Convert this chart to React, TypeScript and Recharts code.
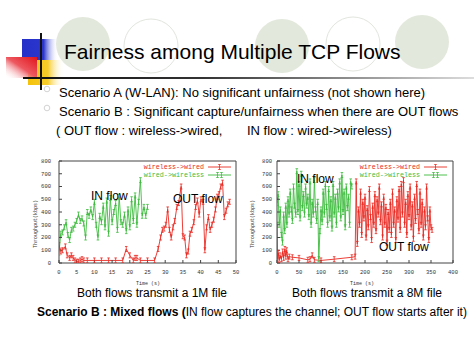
import React from 'react';
import { LineChart, Line, XAxis, YAxis, Legend } from 'recharts';

// 1M file: IN flow (wired->wireless) and OUT flow (wireless->wired)
const oneMInTime = [0, 0.5, 1, 1.5, 2, 2.5, 3, 3.5, 4, 4.5, 5, 5.5, 6, 6.5, 7, 7.5, 8, 8.5, 9, 9.5, 10, 10.5, 11, 11.5, 12, 12.5, 13, 13.5, 14, 14.5, 15, 15.5, 16, 16.5, 17, 17.5, 18, 18.5, 19, 19.5, 20, 20.5, 21, 21.5, 22, 22.5, 23, 23.5, 24, 24.5, 25];
const oneMInKbps = [80, 230, 240, 280, 320, 220, 180, 260, 270, 300, 330, 380, 330, 350, 310, 200, 400, 370, 420, 360, 480, 300, 200, 370, 320, 450, 280, 490, 230, 510, 320, 400, 470, 260, 520, 320, 300, 380, 250, 420, 280, 500, 330, 530, 300, 480, 650, 370, 440, 370, 440];
const oneMOutTime = [0, 0.5, 1, 1.8, 2.3, 3, 3.5, 4, 4.5, 5, 5.5, 6, 6.5, 7, 8, 10, 12, 14, 16, 18, 19, 20, 21, 21.5, 22, 23, 25, 27, 28, 28.7, 29.2, 29.7, 30.2, 30.7, 31.2, 31.7, 32.2, 32.7, 33.3, 33.8, 34.5, 35, 35.5, 36, 36.5, 37, 37.5, 38.1, 38.6, 39.1, 39.6, 40.1, 40.7, 41.2, 41.7, 42.2, 42.7, 43.2, 43.7, 44.2, 44.7, 45.2, 45.7, 46.2, 46.7, 47.2, 47.7, 48.2];
const oneMOutKbps = [140, 90, 100, 130, 60, 40, 60, 40, 20, 10, 10, 20, 30, 20, 20, 20, 20, 20, 20, 20, 110, 60, 20, 40, 40, 20, 20, 20, 110, 200, 260, 270, 300, 420, 260, 200, 280, 330, 440, 470, 600, 210, 200, 60, 90, 230, 260, 320, 440, 490, 380, 500, 480, 100, 280, 360, 260, 300, 340, 420, 520, 540, 600, 630, 360, 410, 460, 480];

// 8M file
const eightMInTime = [0, 2.5, 5, 7.5, 10, 12.5, 15, 17.5, 20, 22.5, 25, 27.5, 30, 32.5, 35, 37.5, 40, 42.5, 45, 47.5, 50, 52.5, 55, 57.5, 60, 62.5, 65, 67.5, 70, 72.5, 75, 77.5, 80, 82.5, 85, 87.5, 90, 92.5, 95, 97.5, 100, 102.5, 105, 107.5, 110, 112.5, 115, 117.5, 120, 122.5, 125, 127.5, 130, 132.5, 135, 137.5, 140, 142.5, 145, 147.5, 150, 152.5, 155, 157.5, 160, 162.5, 165, 167.5, 170];
const eightMInKbps = [470, 540, 300, 420, 220, 160, 380, 250, 450, 300, 500, 380, 560, 420, 330, 600, 450, 380, 720, 400, 620, 350, 700, 430, 540, 380, 600, 450, 520, 360, 640, 300, 480, 380, 650, 420, 330, 480, 30, 250, 420, 320, 560, 380, 620, 440, 300, 580, 350, 500, 270, 620, 380, 520, 300, 560, 420, 640, 350, 690, 400, 560, 280, 600, 430, 520, 300, 640, 600];
const eightMOutTime = [0, 1, 3, 5, 7, 10, 13, 15, 18, 20, 22, 25, 28, 35, 50, 70, 75, 80, 85, 100, 130, 170, 177.5, 180, 182.5, 185, 187.5, 190, 192.5, 195, 197.5, 200, 202.5, 205, 207.5, 210, 212.5, 215, 217.5, 220, 222.5, 225, 227.5, 230, 232.5, 235, 237.5, 240, 242.5, 245, 247.5, 250, 252.5, 255, 257.5, 260, 262.5, 265, 267.5, 270, 272.5, 275, 277.5, 280, 282.5, 285, 287.5, 290, 292.5, 295, 297.5, 300, 302.5, 305, 307.5, 310, 312.5, 315, 317.5, 320, 322.5, 325, 327.5, 330, 332.5, 335, 337.5, 340, 342.5, 345, 347.5, 350, 352.5];
const eightMOutKbps = [300, 30, 80, 20, 60, 30, 90, 40, 110, 50, 100, 30, 50, 45, 40, 25, 30, 60, 25, 20, 30, 45, 50, 640, 150, 420, 300, 560, 220, 480, 350, 520, 200, 430, 280, 580, 360, 180, 450, 300, 540, 250, 500, 380, 600, 320, 460, 200, 520, 300, 440, 160, 400, 260, 480, 220, 560, 300, 420, 180, 500, 340, 580, 260, 620, 380, 650, 300, 480, 220, 540, 360, 600, 280, 460, 190, 520, 330, 620, 400, 250, 560, 300, 480, 200, 420, 280, 600, 350, 180, 420, 280, 260];

const oneMTicks = [0, 5, 10, 15, 20, 25, 30, 35, 40, 45, 50];
const eightMTicks = [0, 50, 100, 150, 200, 250, 300, 350, 400];
const kbpsTicks = [0, 100, 200, 300, 400, 500, 600, 700, 800];

const RED = '#ea2a22';
const GREEN = '#3dbb3d';
const AXIS = '#444';
const SANS = '"Liberation Sans", Arial, sans-serif';
const MONO = '"Liberation Mono", "DejaVu Sans Mono", monospace';

const toPoints = (t: number[], v: number[]) => t.map((time, i) => ({ time, kbps: v[i] }));

// gnuplot-ish "I" marker
const BarDot = (props: any) => {
  const { cx, cy, stroke, index } = props;
  if (cx == null || cy == null) return <g key={index} />;
  return (
    <g key={index} stroke={stroke} strokeWidth={0.8}>
      <line x1={cx} y1={cy - 2.5} x2={cx} y2={cy + 2.5} />
      <line x1={cx - 1.3} y1={cy - 2.5} x2={cx + 1.3} y2={cy - 2.5} />
      <line x1={cx - 1.3} y1={cy + 2.5} x2={cx + 1.3} y2={cy + 2.5} />
    </g>
  );
};

const LegendBox = () => (
  <svg width={125} height={20} style={{ display: 'block' }}>
    <text x={94} y={7} fill={RED} fontSize={6.7} fontFamily={MONO} textAnchor="end">wireless-&gt;wired</text>
    <line x1={98} y1={5} x2={121} y2={5} stroke={RED} strokeWidth={0.9} />
    <BarDot cx={109.5} cy={5} stroke={RED} index={0} />
    <text x={94} y={15} fill={GREEN} fontSize={6.7} fontFamily={MONO} textAnchor="end">wired-&gt;wireless</text>
    <line x1={98} y1={13} x2={121} y2={13} stroke={GREEN} strokeWidth={0.9} />
    <BarDot cx={107.5} cy={13} stroke={GREEN} index={1} />
    <BarDot cx={111.5} cy={13} stroke={GREEN} index={2} />
  </svg>
);

interface FlowChartProps {
  inPts: { time: number; kbps: number }[];
  outPts: { time: number; kbps: number }[];
  ticks: number[];
  max: number;
  yWidth: number;
  rightMargin: number;
  tickGap: number;
  legendLeft: number;
}

function FlowChart({ inPts, outPts, ticks, max, yWidth, rightMargin, tickGap, legendLeft }: FlowChartProps) {
  const tickStyle = { fontSize: 5.5, fill: '#333', fontFamily: MONO };
  return (
    <LineChart width={250} height={140} margin={{ top: 10, right: rightMargin, left: 0, bottom: 0 }}>
      <XAxis xAxisId="b" dataKey="time" type="number" domain={[0, max]} ticks={ticks} height={27}
        tickSize={-3} tickMargin={10} tick={tickStyle} stroke={AXIS} allowDataOverflow />
      <XAxis xAxisId="t" orientation="top" dataKey="time" type="number" domain={[0, max]} ticks={ticks}
        height={1} tickSize={-3} tick={false} stroke={AXIS} allowDataOverflow />
      <YAxis yAxisId="l" dataKey="kbps" type="number" domain={[0, 800]} ticks={kbpsTicks} width={yWidth}
        tickSize={-3} tickMargin={tickGap} tick={tickStyle} stroke={AXIS} allowDataOverflow />
      <YAxis yAxisId="r" orientation="right" dataKey="kbps" type="number" domain={[0, 800]} ticks={kbpsTicks}
        width={1} tickSize={-3} tick={false} stroke={AXIS} allowDataOverflow />
      <Legend layout="horizontal" verticalAlign="middle" align="center" content={() => <LegendBox />}
        wrapperStyle={{ top: 12, left: legendLeft, width: 125, height: 20 }} />
      <Line xAxisId="b" yAxisId="l" data={outPts} dataKey="kbps" name="wireless->wired" stroke={RED}
        strokeWidth={0.9} dot={<BarDot />} isAnimationActive={false} />
      <Line xAxisId="b" yAxisId="l" data={inPts} dataKey="kbps" name="wired->wireless" stroke={GREEN}
        strokeWidth={0.9} dot={<BarDot />} isAnimationActive={false} />
    </LineChart>
  );
}

export default function App() {
  return (
    <div style={{ position: 'relative', width: 474, height: 355, background: '#fff', overflow: 'hidden', fontFamily: SANS }}>
      <style>{'body{margin:0}'}</style>
      <svg width={474} height={355} style={{ position: 'absolute', left: 0, top: 0 }}>
        <defs>
          <linearGradient id="blueG" x1="0" x2="1" y1="0" y2="0">
            <stop offset="0" stopColor="#2430c8" />
            <stop offset="0.6" stopColor="#2a36cc" />
            <stop offset="1" stopColor="#ffffff" stopOpacity="0" />
          </linearGradient>
          <linearGradient id="redG" x1="1" x2="0" y1="0" y2="1">
            <stop offset="0" stopColor="#e0141c" />
            <stop offset="0.5" stopColor="#ee5860" />
            <stop offset="1" stopColor="#ffffff" stopOpacity="0" />
          </linearGradient>
          <linearGradient id="yelG" x1="0" x2="1" y1="0" y2="0">
            <stop offset="0" stopColor="#f4c20a" />
            <stop offset="0.55" stopColor="#f6cc2a" />
            <stop offset="1" stopColor="#ffffff" stopOpacity="0" />
          </linearGradient>
          <linearGradient id="lineG" x1="0" x2="1" y1="0" y2="0">
            <stop offset="0" stopColor="#111" />
            <stop offset="0.4" stopColor="#333" />
            <stop offset="1" stopColor="#ddd" />
          </linearGradient>
        </defs>
        {/* background circles */}
        <circle cx={83} cy={44} r={27} fill="#e3e8dc" />
        <circle cx={151} cy={46} r={27} fill="none" stroke="#e2e6de" strokeWidth={1} />
        <circle cx={282} cy={46} r={27} fill="#e3e8dc" />
        <circle cx={353} cy={44} r={27} fill="none" stroke="#e2e6de" strokeWidth={1} />
        <circle cx={422} cy={42} r={27} fill="#e3e8dc" />
        {/* corner squares */}
        <rect x={22} y={39} width={36} height={21} fill="url(#blueG)" />
        <rect x={28} y={60} width={36} height={25} fill="url(#yelG)" />
        <rect x={6} y={57} width={31} height={21} fill="url(#redG)" />
        <rect x={40} y={33} width={2} height={57} fill="#111" />
        <rect x={23} y={77} width={451} height={2} fill="url(#lineG)" />

        <text x={64} y={59} fontSize={21} fontFamily={SANS} fill="#000">Fairness among Multiple TCP Flows</text>

        <circle cx={47} cy={89} r={2.8} fill="none" stroke="#c8c8c8" strokeWidth={0.8} />
        <circle cx={47} cy={108} r={2.8} fill="none" stroke="#c8c8c8" strokeWidth={0.8} />
        <text x={59} y={97} fontSize={13} fontFamily={SANS}>Scenario A (W-LAN): No significant unfairness (not shown here)</text>
        <text x={59} y={116} fontSize={13} fontFamily={SANS}>Scenario B : Significant capture/unfairness when there are OUT flows</text>
        <text x={56} y={135} fontSize={13} fontFamily={SANS}>( OUT flow : wireless-&gt;wired,</text>
        <text x={247} y={135} fontSize={13} fontFamily={SANS}>IN flow : wired-&gt;wireless)</text>

        <text x={152} y={297} fontSize={12} fontFamily={SANS} textAnchor="middle">Both flows transmit a 1M file</text>
        <text x={367} y={297} fontSize={12} fontFamily={SANS} textAnchor="middle">Both flows transmit a 8M file</text>
        <text x={37} y={316} fontSize={12} fontFamily={SANS}>
          <tspan fontWeight="bold">Scenario B : Mixed flows (</tspan>
          <tspan>IN flow captures the channel; OUT flow starts after it)</tspan>
        </text>
      </svg>

      <div style={{ position: 'absolute', left: 0, top: 150 }}>
        <FlowChart inPts={toPoints(oneMInTime, oneMInKbps)} outPts={toPoints(oneMOutTime, oneMOutKbps)}
          ticks={oneMTicks} max={50} yWidth={59} rightMargin={13} tickGap={11} legendLeft={110} />
      </div>
      <div style={{ position: 'absolute', left: 220, top: 150 }}>
        <FlowChart inPts={toPoints(eightMInTime, eightMInKbps)} outPts={toPoints(eightMOutTime, eightMOutKbps)}
          ticks={eightMTicks} max={400} yWidth={57} rightMargin={16} tickGap={8} legendLeft={106} />
      </div>

      <svg width={474} height={355} style={{ position: 'absolute', left: 0, top: 0, pointerEvents: 'none' }}>
        <text transform="translate(37,224) rotate(-90)" fontSize={5} fontFamily={MONO} fill="#333" textAnchor="middle">Throughput(kbps)</text>
        <text transform="translate(254,224) rotate(-90)" fontSize={5} fontFamily={MONO} fill="#333" textAnchor="middle">Throughput(kbps)</text>
        <text x={148} y={285} fontSize={5} fontFamily={MONO} fill="#333" textAnchor="middle">Time (s)</text>
        <text x={362} y={285} fontSize={5} fontFamily={MONO} fill="#333" textAnchor="middle">Time (s)</text>
        <text x={91} y={200} fontSize={12} fontFamily={SANS}>IN flow</text>
        <text x={173} y={203} fontSize={12} fontFamily={SANS}>OUT flow</text>
        <text x={297} y={183} fontSize={12} fontFamily={SANS}>IN flow</text>
        <text x={379} y={251} fontSize={12} fontFamily={SANS}>OUT flow</text>
      </svg>
    </div>
  );
}
